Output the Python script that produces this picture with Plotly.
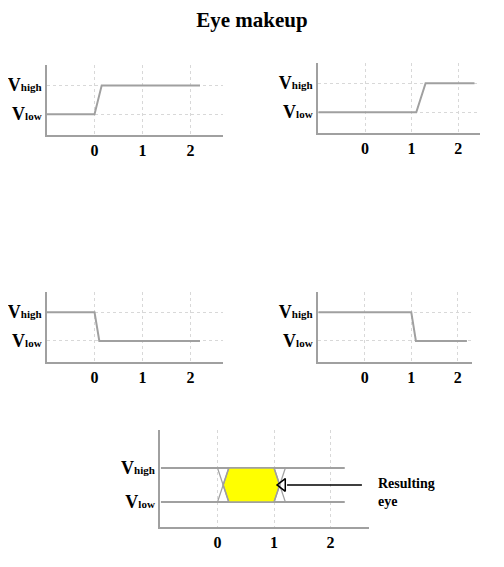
import plotly.graph_objects as go

# waveforms: x/y points for the four input panels (0 = Vlow, 1 = Vhigh)
rise1_x = [-1, 0, 0.15, 2.2]
rise1_y = [0, 0, 1, 1]
rise2_x = [-1, 1.1, 1.3, 2.35]
rise2_y = [0, 0, 1, 1]
fall1_x = [-1, 0, 0.1, 2.2]
fall1_y = [1, 1, 0, 0]
fall2_x = [-1, 1, 1.1, 2.2]
fall2_y = [1, 1, 0, 0]

# resulting eye
eye_x = [0.2, 1.0, 1.1, 1.0, 0.2, 0.1, 0.2]
eye_y = [1, 1, 0.5, 0, 0, 0.5, 1]
cross_a_x = [0, 0.2, None, 0.2, 0]
cross_a_y = [1, 0, None, 1, 0]
cross_b_x = [1.0, 1.2, None, 1.2, 1.0]
cross_b_y = [1, 0, None, 1, 0]
level_x = [-1, 2.25]
arrow_tip = (1.15, 0.5)
arrow_tail = (2.58, 0.5)

x_ticks = [0, 1, 2]
y_ticks = [0, 1]
y_labels = ["<b style='font-size:18px'>V</b><b style='font-size:11px'>low</b>",
            "<b style='font-size:18px'>V</b><b style='font-size:11px'>high</b>"]

GRAY = "#a0a0a0"
FONT = "Liberation Serif"
DX = 8 / 504   # page body margin offset
DY = 8 / 567


def hx(a, b):
    return [a - DX, b - DX]


def hy(a, b):
    return [a + DY, b + DY]


panels = [
    # (x data, y data, x domain, y domain, x range, y range)
    (rise1_x, rise1_y, hx(0.085, 0.437), hy(0.762, 0.885), [-1, 2.67], [-0.72, 1.7]),
    (rise2_x, rise2_y, hx(0.627, 0.952), hy(0.765, 0.889), [-1.02, 2.47], [-0.72, 1.7]),
    (fall1_x, fall1_y, hx(0.085, 0.437), hy(0.362, 0.485), [-1, 2.67], [-0.72, 1.7]),
    (fall2_x, fall2_y, hx(0.627, 0.935), hy(0.362, 0.485), [-1.02, 2.3], [-0.72, 1.7]),
]

fig = go.Figure()
layout = {}


def axes(i, xdom, ydom, xr, yr):
    s = "" if i == 1 else str(i)
    common = dict(showline=True, linecolor=GRAY, linewidth=1.5, showgrid=True,
                  gridcolor="#d8d8d8", griddash="dot", zeroline=False, ticks="",
                  tickfont=dict(family=FONT, size=16, color="black"))
    layout["xaxis" + s] = dict(domain=xdom, range=xr, tickvals=x_ticks,
                               ticktext=[f"<b>{t}</b>" for t in x_ticks],
                               anchor="y" + s, **common)
    layout["yaxis" + s] = dict(domain=ydom, range=yr, tickvals=y_ticks,
                               ticktext=y_labels, anchor="x" + s, **common)
    return "x" + s, "y" + s


for i, (px_, py_, xd, yd, xr, yr) in enumerate(panels, start=1):
    xa, ya = axes(i, xd, yd, xr, yr)
    fig.add_trace(go.Scatter(x=px_, y=py_, mode="lines", xaxis=xa, yaxis=ya,
                             line=dict(color=GRAY, width=2), hoverinfo="skip"))

xa, ya = axes(5, hx(0.3115, 0.73), hy(0.0705, 0.242), [-1.02, 2.68], [-0.735, 2.12])
layout["yaxis5"]["showgrid"] = False
for lv in y_ticks:
    fig.add_trace(go.Scatter(x=level_x, y=[lv, lv], mode="lines", xaxis=xa, yaxis=ya,
                             line=dict(color=GRAY, width=2), hoverinfo="skip"))
fig.add_trace(go.Scatter(x=eye_x, y=eye_y, mode="lines", fill="toself", fillcolor="#ffff00",
                         xaxis=xa, yaxis=ya, line=dict(color=GRAY, width=1.5), hoverinfo="skip"))
for cx, cy in [(cross_a_x, cross_a_y), (cross_b_x, cross_b_y)]:
    fig.add_trace(go.Scatter(x=cx, y=cy, mode="lines", xaxis=xa, yaxis=ya,
                             line=dict(color=GRAY, width=1.2), hoverinfo="skip"))

fig.add_annotation(x=arrow_tip[0] + 0.08, y=arrow_tip[1], ax=arrow_tail[0], ay=arrow_tail[1],
                   xref=xa, yref=ya, axref=xa, ayref=ya,
                   showarrow=True, arrowhead=0, arrowwidth=1.5, arrowcolor="black", text="")
fig.add_trace(go.Scatter(x=[arrow_tip[0]], y=[arrow_tip[1]], mode="markers", xaxis=xa, yaxis=ya,
                         marker=dict(symbol="triangle-left-open", size=11, color="black",
                                     line=dict(color="black", width=1.5)),
                         hoverinfo="skip"))
fig.add_annotation(x=0.728, y=0.146, xref="paper", yref="paper", xanchor="left",
                   yanchor="middle", showarrow=False, align="left",
                   text="<b>Resulting<br>eye</b>",
                   font=dict(family=FONT, size=14, color="black"))

fig.update_layout(
    **layout,
    width=504, height=567,
    margin=dict(l=0, r=0, t=0, b=0),
    plot_bgcolor="white", paper_bgcolor="white",
    showlegend=False,
    title=dict(text="<b>Eye makeup</b>", x=0.5 - DX, y=0.979, xanchor="center",
               yanchor="middle", font=dict(family=FONT, size=21, color="black")),
)

fig.write_html("out.html")
